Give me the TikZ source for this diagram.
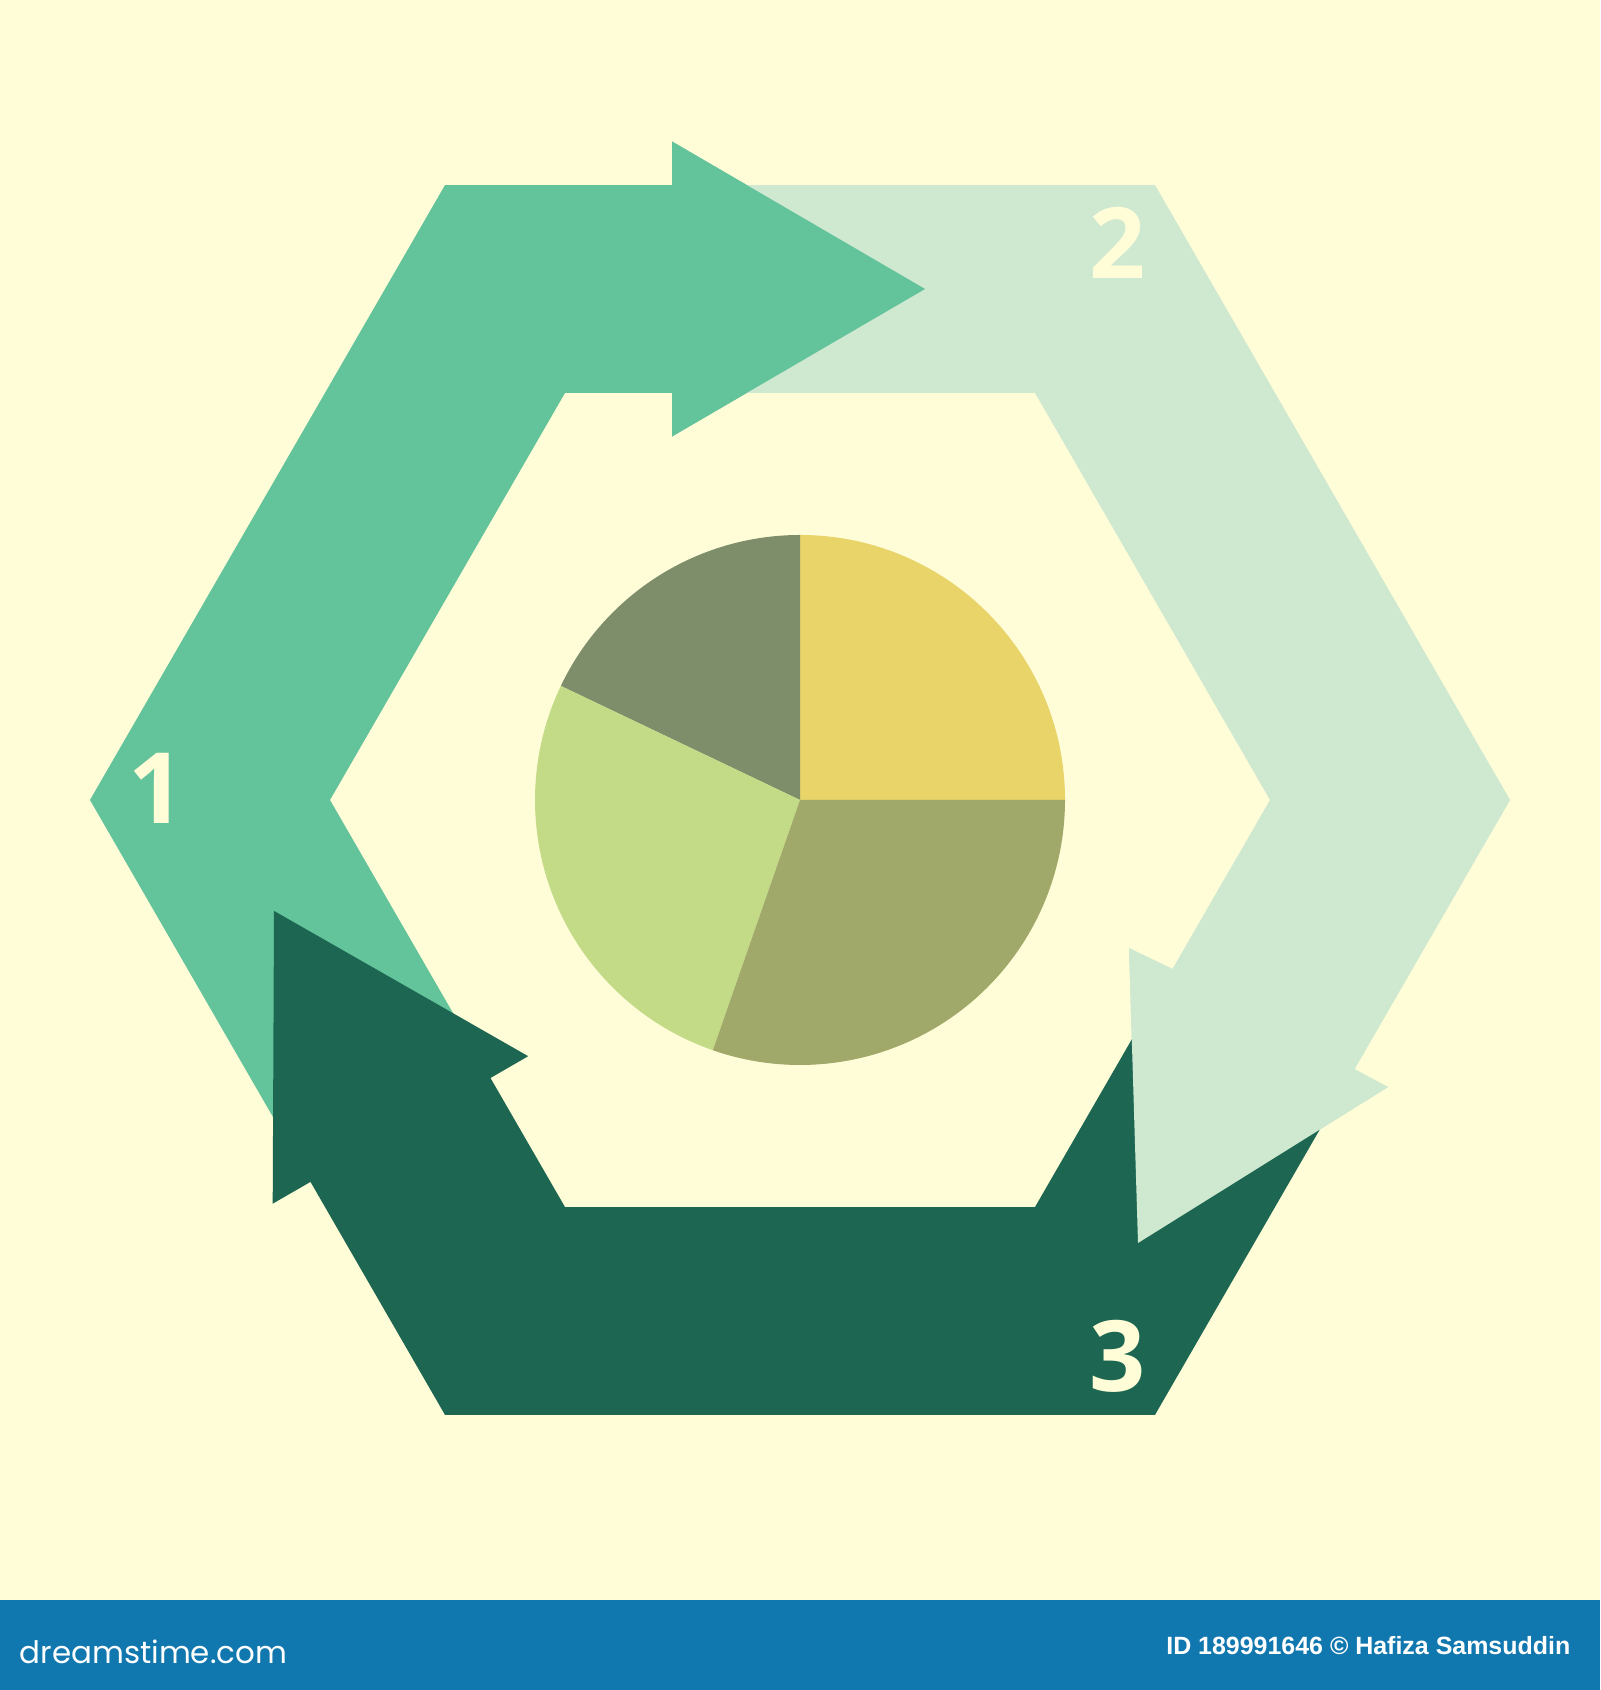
\documentclass[tikz,border=0pt]{standalone}
\usepackage{fontspec}
\newfontfamily\digitfont{Open Sans}
\newfontfamily\creditfont{Liberation Sans}
\newfontfamily\logofont{Poppins}
\definecolor{cream}{HTML}{FFFCD8}
\definecolor{arrowone}{HTML}{63C39B}
\definecolor{arrowtwo}{HTML}{CFE8D0}
\definecolor{arrowthree}{HTML}{1D6752}
\definecolor{pieyellow}{HTML}{E8D468}
\definecolor{piedark}{HTML}{7F8E6A}
\definecolor{pielight}{HTML}{C3DB87}
\definecolor{pieolive}{HTML}{A0A96A}
\definecolor{bannerblue}{HTML}{1077AF}

\begin{document}
\begin{tikzpicture}[line join=miter]
  \tikzstyle{digit}=[text=cream,font=\digitfont\bfseries\fontsize{28}{28}\selectfont,inner sep=0pt]
  \tikzstyle{credit}=[text=white,inner sep=0pt]
  \useasboundingbox (-8,-8.9) rectangle (8,8);
  \fill[cream] (-8,-8) rectangle (8,8);
  \fill[bannerblue] (-8,-8.9) rectangle (8,-8);

  % arrow 1, left side up to the top
  \fill[arrowone] (-3.32,-2.39) -- (-5.12,-3.43) -- (180:7.1) -- (120:7.1)
       -- (-1.28,6.149) -- (-1.28,6.585) -- (1.25,5.11) -- (-1.28,3.635)
       -- (-1.28,4.07) -- (120:4.7) -- (180:4.7) -- cycle;
  % arrow 2, top down the right side
  \fill[arrowtwo] (-0.83,4.07) -- (-0.83,6.149) -- (60:7.1) -- (0:7.1)
       -- (5.525,-2.728) -- (5.88,-2.87) -- (3.38,-4.43) -- (3.29,-1.48)
       -- (3.725,-1.689) -- (0:4.7) -- (60:4.7) -- cycle;
  % arrow 3, bottom round to the left
  \fill[arrowthree] (3.50,-2.078) -- (5.30,-3.118) -- (300:7.1) -- (240:7.1)
       -- (-4.895,-3.819) -- (-5.273,-4.037) -- (-5.26,-1.109) -- (-2.718,-2.562)
       -- (-3.095,-2.780) -- (240:4.7) -- (300:4.7) -- cycle;
  % heads 1 and 2 lie over the next tail
  \fill[arrowone] (-1.28,6.585) -- (1.25,5.11) -- (-1.28,3.635) -- cycle;
  \fill[arrowtwo] (5.88,-2.87) -- (3.38,-4.43) -- (3.29,-1.48) -- cycle;

  % pie
  \fill[pieyellow] (0,0) -- (0:2.65) arc (0:90:2.65) -- cycle;
  \fill[piedark]   (0,0) -- (90:2.65) arc (90:154.5:2.65) -- cycle;
  \fill[pielight]  (0,0) -- (154.5:2.65) arc (154.5:250.8:2.65) -- cycle;
  \fill[pieolive]  (0,0) -- (250.8:2.65) arc (250.8:360:2.65) -- cycle;

  \node[digit] (one)   at (-6.43,0.12)  {1};
  \node[digit] (two)   at (3.18,5.57)   {2};
  \node[digit] (three) at (3.18,-5.56)  {3};

  \node[credit,anchor=west,font=\logofont\fontsize{8.8}{8.8}\selectfont] (logo) at (-7.81,-8.52) {dreamstime.com};
  \node[credit,anchor=east,font=\creditfont\bfseries\fontsize{7.1}{7.1}\selectfont] (author) at (7.71,-8.46) {ID 189991646 © Hafiza Samsuddin};
\end{tikzpicture}
\end{document}
